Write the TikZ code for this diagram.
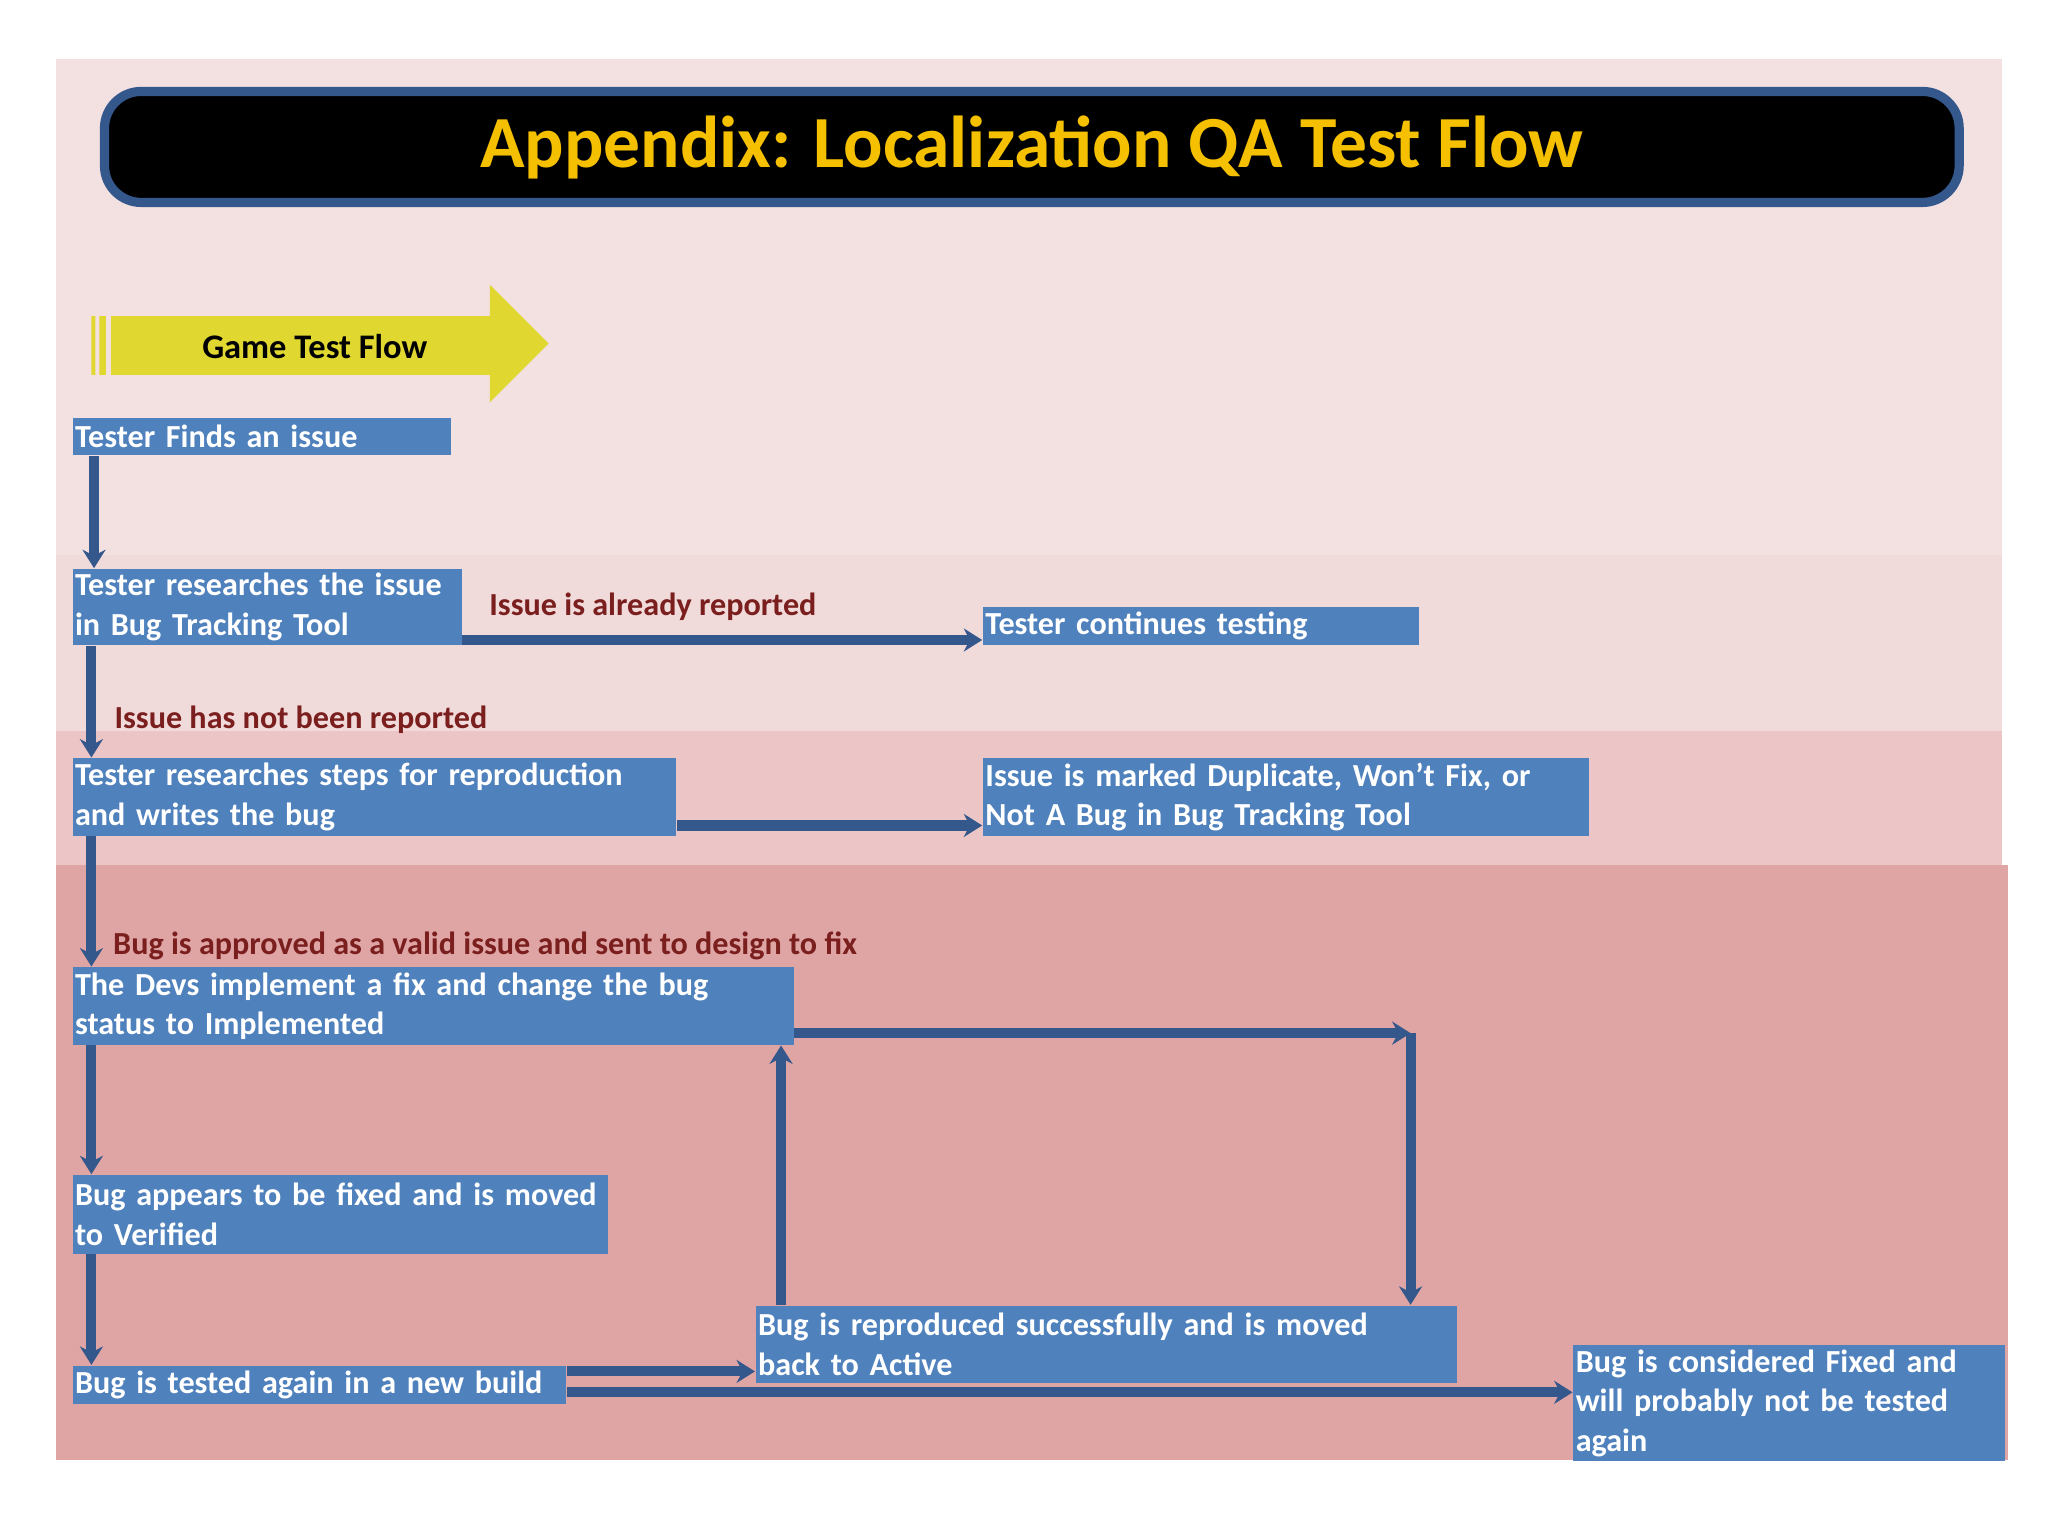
\documentclass[tikz,border=0pt]{standalone}
\usepackage{fontspec}
\setmainfont{Carlito}
\usetikzlibrary{arrows.meta}
\definecolor{bx}{HTML}{4F81BD}
\definecolor{ln}{HTML}{34578C}
\definecolor{lab}{HTML}{7A1E1E}
\definecolor{bg1}{HTML}{F3E0E1}
\definecolor{bg2}{HTML}{F0DADA}
\definecolor{bg3}{HTML}{ECC6C6}
\definecolor{bg4}{HTML}{DFA5A5}
\definecolor{gold}{HTML}{F5C000}
\definecolor{yel}{HTML}{E0D830}
\tikzset{
 bbox/.style={anchor=north west,fill=bx,text=white,font=\bfseries\fontsize{7}{8.6}\selectfont,align=left,inner xsep=0.5pt,inner ysep=0pt},
 conn/.style={draw=ln,line width=2.2pt,-{Stealth[length=4pt,width=5pt]}},
 lbl/.style={anchor=base west,text=lab,font=\bfseries\fontsize{7}{8.6}\selectfont,inner sep=0pt}
}
\begin{document}
\begin{tikzpicture}[x=0.01cm,y=-0.01cm]
\useasboundingbox (0,0) rectangle (1568,1176);
\fill[white] (0,0) rectangle (1568,1176);
\fill[bg1] (43,45) rectangle (1533,425);
\fill[bg2] (43,425) rectangle (1533,560);
\fill[bg3] (43,560) rectangle (1533,662);
\fill[bg4] (43,662) rectangle (1537,1118);
% title
\draw[rounded corners=8pt,fill=black,draw=ln,line width=2pt] (80,70) rectangle (1500,155);
\node[text=gold,font=\bfseries\fontsize{16}{18}\selectfont] (title) at (790,113) {Appendix: Localization QA Test Flow};
% yellow arrow
\fill[yel] (85,242) -- (375,242) -- (375,218) -- (420,263) -- (375,308) -- (375,287) -- (85,287) -- cycle;
\fill[yel] (70,242) rectangle (73,287) (76,242) rectangle (81,287);
\node[font=\bfseries\fontsize{7.5}{9}\selectfont] (gtf) at (241,265) {Game Test Flow};
% boxes
\node[bbox,text width=2.86cm,minimum height=0.29cm] (a) at (55,319) {Tester Finds an issue};
\node[bbox,text width=2.94cm,minimum height=0.58cm] (b) at (55,435) {Tester researches the issue\\in Bug Tracking Tool};
\node[bbox,text width=3.30cm,minimum height=0.29cm] (c) at (752,464) {Tester continues testing};
\node[bbox,text width=4.58cm,minimum height=0.59cm] (d) at (55,580) {Tester researches steps for reproduction\\and writes the bug};
\node[bbox,text width=4.60cm,minimum height=0.59cm] (e) at (752,580) {Issue is marked Duplicate, Won’t Fix, or\\Not A Bug in Bug Tracking Tool};
\node[bbox,text width=5.48cm,minimum height=0.59cm] (f) at (55,740) {The Devs implement a fix and change the bug\\status to Implemented};
\node[bbox,text width=4.06cm,minimum height=0.60cm] (g) at (55,899) {Bug appears to be fixed and is moved\\to Verified};
\node[bbox,text width=3.74cm,minimum height=0.29cm] (h) at (55,1045) {Bug is tested again in a new build};
\node[bbox,text width=5.33cm,minimum height=0.59cm] (i) at (578,999) {Bug is reproduced successfully and is moved\\back to Active};
\node[bbox,text width=3.27cm,minimum height=0.89cm] (j) at (1204,1029) {Bug is considered Fixed and\\will probably not be tested\\again};
% labels
\node[lbl] (l1) at (374,471) {Issue is already reported};
\node[lbl] (l2) at (87,558) {Issue has not been reported};
\node[lbl] (l3) at (86,731) {Bug is approved as a valid issue and sent to design to fix};
% connectors
\coordinate (k1) at (1080,791);
\coordinate (k2) at (1080,999);
\draw[conn] (a.south -| 72,0) -- (b.north -| 72,0);
\draw[conn] (b.east |- 0,490) -- (c.west |- 0,490);
\draw[conn] (b.south -| 70,0) -- (d.north -| 70,0);
\draw[conn] (d.east |- 0,632) -- (e.west |- 0,632);
\draw[conn] (d.south -| 70,0) -- (f.north -| 70,0);
\draw[conn] (f.south -| 70,0) -- (g.north -| 70,0);
\draw[conn] (g.south -| 70,0) -- (h.north -| 70,0);
\draw[conn] (h.east |- 0,1050) -- (i.west |- 0,1050);
\draw[conn] (h.east |- 0,1066) -- (j.west |- 0,1066);
\draw[conn] (i.north -| 598,0) -- (f.south -| 598,0);
\draw[conn] (f.east |- k1) -- (k1);
\draw[conn] (k1) -- (k2);
\end{tikzpicture}
\end{document}
